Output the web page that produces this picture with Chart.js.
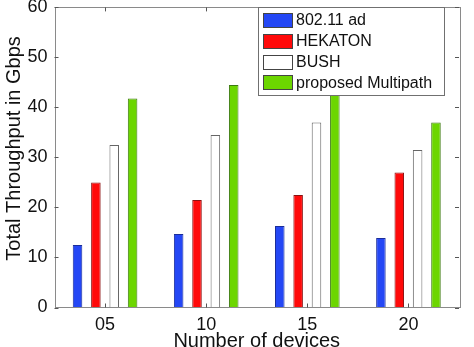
<!DOCTYPE html>
<html>
<head>
<meta charset="utf-8">
<script src="https://cdn.jsdelivr.net/npm/chart.js@4.4.1/dist/chart.umd.min.js"></script>
<style>
    html, body { margin: 0; padding: 0; background: #ffffff; }
    #wrap { width: 474px; height: 347px; }
</style>
</head>
<body>
<div id="wrap"><canvas id="throughput"></canvas></div>
<script>
var devices = ['05', '10', '15', '20'];
var ad80211 = [12.5, 14.7, 16.3, 13.9];
var hekaton = [25, 21.5, 22.5, 27];
var bush = [32.5, 34.5, 37, 31.5];
var multipath = [41.8, 44.5, 43, 37];
var yMin = 0, yMax = 60, yStep = 10;
var yTitle = 'Total Throughput in Gbps';

var fontFamily = '"Liberation Sans", Arial, Helvetica, sans-serif';
var axisGrey = '#8a8a8a';

// MATLAB style box round the plot, ticks pointing inward on all four sides
var boxPlugin = {
    id: 'matlabBox',
    afterDatasetsDraw: function (chart) {
        var ctx = chart.ctx;
        var area = chart.chartArea;
        var x = chart.scales.x, y = chart.scales.y;
        ctx.save();
        ctx.strokeStyle = axisGrey;
        ctx.lineWidth = 1;
        ctx.strokeRect(Math.round(area.left) + 0.5, Math.round(area.top) + 0.5,
            Math.round(area.right - area.left), Math.round(area.bottom - area.top));
        ctx.strokeStyle = '#555555';
        ctx.beginPath();
        y.ticks.forEach(function (t) {
            var py = Math.round(y.getPixelForValue(t.value)) + 0.5;
            ctx.moveTo(area.left, py); ctx.lineTo(area.left + 4, py);
            ctx.moveTo(area.right, py); ctx.lineTo(area.right - 4, py);
        });
        devices.forEach(function (d, i) {
            var px = Math.round(x.getPixelForValue(i)) + 0.5;
            ctx.moveTo(px, area.bottom); ctx.lineTo(px, area.bottom - 4);
            ctx.moveTo(px, area.top); ctx.lineTo(px, area.top + 4);
        });
        ctx.stroke();

        // y label sits a little above the middle of the axis, as in the original figure
        ctx.translate(14, (area.top + area.bottom) / 2 - 9);
        ctx.rotate(-Math.PI / 2);
        ctx.font = '20px ' + fontFamily;
        ctx.fillStyle = '#111111';
        ctx.textAlign = 'center';
        ctx.textBaseline = 'middle';
        ctx.fillText(yTitle, 0, 0);
        ctx.restore();
    }
};

// legend box drawn inside the top right corner, over the bars
var insideLegend = {
    id: 'insideLegend',
    afterDraw: function (chart) {
        var ctx = chart.ctx;
        var area = chart.chartArea;
        var sets = chart.data.datasets;
        var boxRight = Math.round(area.right - 15.5);
        var boxLeft = Math.round(area.left + 203);
        var boxTop = Math.round(area.top);
        var rowH = 20.8;
        var boxBottom = Math.round(boxTop + 13 + rowH * (sets.length - 1) + 12.5);
        ctx.save();
        ctx.fillStyle = '#ffffff';
        ctx.fillRect(boxLeft, boxTop, boxRight - boxLeft, boxBottom - boxTop);
        ctx.strokeStyle = '#707070';
        ctx.lineWidth = 1;
        ctx.strokeRect(boxLeft + 0.5, boxTop + 0.5, boxRight - boxLeft, boxBottom - boxTop);
        ctx.font = '16px ' + fontFamily;
        ctx.textBaseline = 'middle';
        ctx.textAlign = 'left';
        sets.forEach(function (ds, i) {
            var cy = boxTop + 13 + rowH * i;
            ctx.fillStyle = ds.backgroundColor;
            ctx.fillRect(boxLeft + 5, Math.round(cy - 7), 30, 14);
            ctx.strokeStyle = '#444444';
            ctx.strokeRect(boxLeft + 5.5, Math.round(cy - 7) + 0.5, 29, 14);
            ctx.fillStyle = '#111111';
            ctx.fillText(ds.label, boxLeft + 38, cy + 1);
        });
        ctx.restore();
    }
};

var ctxThroughput = document.getElementById('throughput').getContext('2d');

var throughputChart = new Chart(ctxThroughput, {
    type: 'bar',
    data: {
        labels: devices,
        datasets: [
            {
                label: '802.11 ad',
                data: ad80211,
                backgroundColor: '#2447f5',
                borderColor: '#1a2d9a',
                borderWidth: 1
            },
            {
                label: 'HEKATON',
                data: hekaton,
                backgroundColor: '#ff0a0a',
                borderColor: '#8b1010',
                borderWidth: 1
            },
            {
                label: 'BUSH',
                data: bush,
                backgroundColor: '#ffffff',
                borderColor: '#666666',
                borderWidth: 1
            },
            {
                label: 'proposed Multipath',
                data: multipath,
                backgroundColor: '#6cd600',
                borderColor: '#3d7a10',
                borderWidth: 1
            }
        ]
    },
    options: {
        responsive: true,
        maintainAspectRatio: false,
        animation: false,
        categoryPercentage: 0.726,
        barPercentage: 0.52,
        layout: {
            padding: { top: 0, right: 15, left: 0, bottom: 0 }
        },
        plugins: {
            legend: { display: false },
            tooltip: { enabled: false }
        },
        scales: {
            x: {
                grid: { display: false, drawTicks: false },
                border: { display: false },
                ticks: {
                    color: '#111111',
                    padding: 9,
                    font: { family: fontFamily, size: 18, lineHeight: 1 }
                },
                title: {
                    display: true,
                    text: 'Number of devices',
                    color: '#111111',
                    padding: { top: 0, bottom: -4 },
                    font: { family: fontFamily, size: 20, lineHeight: 1 }
                },
                afterFit: function (scale) { scale.height = 39.5; }
            },
            y: {
                min: yMin,
                max: yMax,
                grid: { display: false, drawTicks: false },
                border: { display: false },
                ticks: {
                    stepSize: yStep,
                    color: '#111111',
                    padding: 7,
                    font: { family: fontFamily, size: 18 }
                },
                title: { display: false },
                afterFit: function (scale) {
                    scale.width = 54.5;
                    scale.paddingTop = 7.4;
                    scale.paddingBottom = 0;
                }
            }
        }
    },
    plugins: [boxPlugin, insideLegend]
});
</script>
</body>
</html>
